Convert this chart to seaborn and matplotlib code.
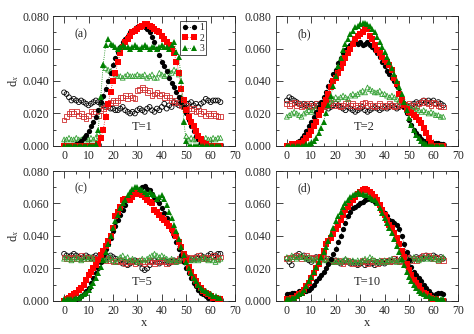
import numpy as np
import pandas as pd
import matplotlib
matplotlib.use("Agg")
import matplotlib.pyplot as plt
import seaborn as sns
from matplotlib.ticker import MultipleLocator, FormatStrFormatter

x = list(range(65))

# values in units of 1e-3
a_f1 = [0,0,0,0,0,1,2,3,5,7,9,12,15,18,22,27,31,35,40,45,50,54,58,61,64,66,68,70,71,72,73,74,74,73,72,70,67,64,60,56,52,49,46,42,39,36,33,30,27,24,20,16,12,9,6,4,2,1,0,0,0,0,0,0,0]
a_f2 = [0,0,0,0,0,0,0,0,0,0,0,0,0,0,1,5,10,18,26,33,40,45,52,57,61,64,66,68,70,71,72,73,74,75,75,74,73,72,71,70,68,66,64,62,60,57,52,45,35,28,22,18,15,12,9,6,4,2,1,0,0,0,0,0,0]
a_f3 = [0,0,0,0,0,0,0,0,0,0,0,0,0,1,10,30,50,62,66,63,62,61,60,61,62,61,61,60,61,62,61,60,61,62,61,60,61,61,60,61,62,61,61,60,62,64,58,55,40,15,3,0,0,0,0,0,0,0,0,0,0,0,0,0,0]
a_o1 = [33,32,30,28,29,28,27,28,27,26,25,26,27,28,27,26,25,24,24,23,23,22,22,23,24,22,21,20,21,20,22,23,22,21,23,24,22,21,23,22,24,26,23,25,24,27,26,25,27,25,26,26,27,25,26,24,26,27,29,28,27,28,28,28,27]
a_o2 = [16,18,20,21,20,21,19,20,18,17,19,21,20,21,19,22,23,24,25,27,28,27,28,30,30,31,29,31,30,29,34,35,36,35,33,34,31,32,33,31,32,30,31,30,28,27,28,27,25,24,25,23,22,23,21,22,20,21,19,20,19,20,19,18,18]
a_o3 = [4,4,5,4,4,5,4,4,5,4,4,5,4,5,8,30,50,48,47,46,45,44,43,43,42,43,44,43,43,43,44,43,43,44,42,43,44,42,42,45,44,43,44,46,45,47,46,44,30,15,6,4,5,4,4,5,4,4,5,4,4,5,4,5,5]

b_f1 = [0,0,1,1,2,3,5,7,9,12,15,18,21,24,27,30,33,37,40,44,47,51,54,57,59,61,62,64,64,63,64,62,63,64,62,61,59,57,55,52,49,46,44,42,40,37,33,29,24,20,16,13,10,8,6,4,3,2,1,1,2,2,2,1,1]
b_f2 = [0,0,1,1,1,2,2,3,5,7,9,12,15,19,22,25,28,32,36,40,42,45,48,51,54,57,60,63,66,68,69,70,72,72,68,66,62,59,57,55,53,52,50,47,42,38,32,28,25,23,21,20,19,18,16,14,11,8,5,2,0,0,0,0,0]
b_f3 = [0,0,0,0,0,0,0,0,1,1,2,3,5,8,11,15,20,25,31,37,43,49,54,59,63,66,69,71,73,74,75,76,76,75,74,72,70,67,64,61,58,55,52,48,44,40,36,32,27,22,17,13,10,7,5,3,2,1,0,0,0,0,0,0,0]
b_o1 = [28,30,29,28,27,26,25,26,25,24,26,25,26,25,24,25,24,23,24,25,26,25,24,23,22,24,23,22,21,22,23,24,22,21,22,23,24,23,22,23,24,23,24,25,24,23,24,25,26,25,24,25,26,27,26,27,28,27,28,27,28,26,27,26,25]
b_o2 = [26,25,26,27,25,26,24,25,26,25,24,25,26,24,25,24,25,26,27,25,26,25,24,25,26,27,25,26,25,24,25,26,27,25,26,25,24,25,26,25,24,25,26,25,24,25,26,25,24,25,26,25,24,25,26,27,28,27,26,25,27,26,25,24,24]
b_o3 = [18,19,20,21,20,19,18,20,21,22,21,22,23,22,24,25,26,27,28,29,30,29,30,31,30,29,31,32,31,32,33,34,33,36,35,34,33,33,34,32,32,31,30,31,30,29,28,27,26,25,24,23,22,23,22,21,22,21,20,21,20,19,19,18,18]

c_f1 = [0,0,0,0,1,1,2,3,4,6,8,11,14,17,20,24,28,32,35,39,43,46,50,53,56,59,62,64,66,67,68,69,70,71,69,68,66,63,62,60,57,54,51,47,43,40,36,32,28,24,20,17,14,11,9,7,5,4,3,2,2,1,1,0,0]
c_f2 = [0,1,2,3,4,5,7,8,10,13,16,18,20,22,25,28,31,34,37,40,45,52,55,58,62,63,63,62,64,66,67,66,65,64,62,61,60,56,55,53,51,50,48,46,44,42,40,36,33,29,25,21,18,15,12,10,8,6,5,4,3,2,2,1,1]
c_f3 = [1,1,1,1,1,2,2,3,4,5,7,9,11,14,17,21,25,30,35,40,45,49,53,57,60,62,65,67,69,70,70,69,68,67,66,67,66,65,63,64,65,63,59,55,51,47,43,38,33,28,24,20,17,14,12,10,8,7,6,5,4,3,3,2,2]
c_o1 = [29,28,27,28,29,28,27,26,27,28,27,26,27,28,27,26,25,26,27,28,27,26,24,25,23,24,22,23,24,25,24,23,20,19,20,22,24,25,24,23,24,25,24,23,24,25,24,25,26,25,27,26,25,26,27,26,28,27,26,28,29,27,28,29,29]
c_o2 = [27,26,27,26,27,26,27,28,26,27,26,27,26,25,26,27,26,25,26,25,24,25,24,25,24,23,24,25,24,23,24,25,24,23,24,25,24,23,24,24,25,24,23,24,25,24,25,26,25,26,27,26,27,26,27,28,27,26,27,26,27,28,27,26,27]
c_o3 = [26,27,26,25,26,27,26,25,26,27,26,27,26,25,26,25,26,25,26,27,25,24,26,27,28,26,27,25,26,25,24,25,26,25,26,27,28,29,28,27,28,27,26,25,26,25,24,25,26,25,24,25,26,25,26,25,26,27,26,25,26,25,24,25,26]

d_f1 = [4,4,5,5,5,6,6,6,6,7,8,10,12,14,16,18,20,23,26,29,32,36,40,44,48,52,55,57,58,59,60,61,62,63,63,62,61,60,58,56,54,52,50,49,48,47,44,40,35,30,25,21,18,16,14,12,10,8,6,4,3,4,5,5,4]
d_f2 = [1,1,2,2,3,4,5,7,9,11,14,17,20,23,27,31,35,37,39,41,44,47,50,53,56,58,60,62,64,66,67,68,69,68,67,66,64,62,59,56,53,50,47,45,42,39,35,31,27,23,19,16,13,11,9,7,5,4,3,2,1,1,0,0,0]
d_f3 = [1,1,2,2,3,4,5,7,9,12,15,18,21,24,27,30,33,37,41,45,49,52,55,58,60,62,64,65,66,67,66,66,65,65,64,63,62,60,57,54,51,48,45,42,38,34,30,26,22,18,15,12,10,8,6,5,4,3,3,2,2,2,1,1,1]
d_o1 = [26,24,22,27,28,29,27,28,26,25,24,26,27,25,26,27,25,26,25,24,25,24,23,24,25,24,23,24,23,22,23,24,22,23,24,23,22,24,23,24,23,24,25,24,26,25,24,26,25,26,27,25,26,27,26,27,26,28,27,26,28,27,26,27,26]
d_o2 = [26,27,26,27,28,27,26,27,28,27,26,27,26,25,26,27,26,25,24,25,24,25,24,23,24,25,24,23,24,23,24,25,24,23,24,25,24,23,24,25,24,25,24,25,26,25,24,25,26,27,26,25,26,25,26,27,28,27,28,27,26,27,25,26,25]
d_o3 = [27,26,28,27,26,27,28,27,26,27,26,25,26,27,26,25,26,25,24,25,24,25,24,25,26,25,24,25,24,25,24,25,26,25,27,26,25,24,25,24,25,24,25,26,25,24,25,26,25,26,25,26,27,26,25,26,27,26,27,26,27,26,25,26,27]

panels = [
    ("(a)", "T=1", [a_f1, a_f2, a_f3], [a_o1, a_o2, a_o3]),
    ("(b)", "T=2", [b_f1, b_f2, b_f3], [b_o1, b_o2, b_o3]),
    ("(c)", "T=5", [c_f1, c_f2, c_f3], [c_o1, c_o2, c_o3]),
    ("(d)", "T=10", [d_f1, d_f2, d_f3], [d_o1, d_o2, d_o3]),
]
legend_labels = ["1", "2", "3"]

sns.set_style("ticks")
plt.rcParams["font.family"] = ["Liberation Serif", "DejaVu Serif"]
plt.rcParams["mathtext.fontset"] = "stix"

fig = plt.figure(figsize=(4.74, 3.34), dpi=100)
L = [0.112, 0.582]
B = [0.563, 0.099]
W = 0.384
H = 0.389

fill_colors = ["#000000", "#ff0000", "#008000"]
open_colors = ["#000000", "#d03030", "#33a033"]
markers = ["o", "s", "^"]

for i, (tag, ttl, filled, opened) in enumerate(panels):
    r, c = divmod(i, 2)
    ax = fig.add_axes([L[c], B[r], W, H])
    for k in range(3):
        yo = np.array(opened[k]) / 1000.0
        sns.scatterplot(x=x, y=yo, ax=ax, marker=markers[k], s=12,
                        facecolors="none", edgecolor=open_colors[k],
                        linewidth=0.6, zorder=2)
    for k in range(3):
        yf = np.array(filled[k]) / 1000.0
        sns.lineplot(x=x, y=yf, ax=ax, marker=markers[k], markersize=3.8,
                     color=fill_colors[k], linestyle=":", linewidth=0.6,
                     markeredgewidth=0, errorbar=None, zorder=3,
                     label=legend_labels[k] if i == 0 else None)
    ax.set_xlim(-4.5, 70)
    ax.set_ylim(0, 0.080)
    ax.xaxis.set_major_locator(MultipleLocator(10))
    ax.xaxis.set_minor_locator(MultipleLocator(5))
    ax.yaxis.set_major_locator(MultipleLocator(0.02))
    ax.yaxis.set_minor_locator(MultipleLocator(0.01))
    ax.yaxis.set_major_formatter(FormatStrFormatter("%.3f"))
    ax.tick_params(which="both", direction="in", top=True, right=True,
                   labelsize=8.5, width=0.6, pad=3)
    ax.tick_params(which="major", length=5)
    ax.tick_params(which="minor", length=2.5)
    for sp in ax.spines.values():
        sp.set_linewidth(0.6)
    ax.set_xlabel("x" if r == 1 else "", fontsize=9, labelpad=0)
    ax.set_ylabel(r"d$_x$" if c == 0 else "", fontsize=9, labelpad=1)
    ax.text(0.12, 0.84, tag, transform=ax.transAxes, fontsize=8.5)
    ax.text(0.43, 0.12, ttl, transform=ax.transAxes, fontsize=9)
    if i == 0:
        ax.legend(loc="upper right", bbox_to_anchor=(0.84, 0.96), fontsize=7,
                  frameon=True, fancybox=False, edgecolor="black",
                  handlelength=1.6, handletextpad=0.2, borderpad=0.2,
                  labelspacing=0.15, borderaxespad=0, numpoints=2)
        ax.get_legend().get_frame().set_linewidth(0.6)
    elif ax.get_legend() is not None:
        ax.get_legend().remove()

fig.savefig("out.png", dpi=100)
